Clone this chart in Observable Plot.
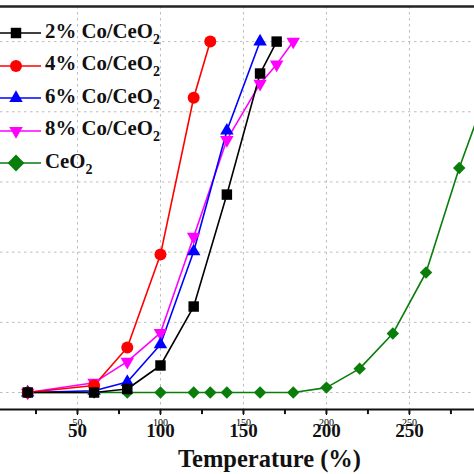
<!DOCTYPE html>
<html>
<head>
<meta charset="utf-8">
<script src="https://cdn.jsdelivr.net/npm/d3@7"></script>
<script src="https://cdn.jsdelivr.net/npm/@observablehq/plot@0.6"></script>
<style>
  html, body { margin: 0; padding: 0; background: #fff; }
  #wrap { position: relative; width: 474px; height: 474px; overflow: hidden; }
  #wrap > svg.axis-layer { position: absolute; left: 0; top: 0; }
  #legend { position: absolute; left: 0; top: 17px; font-family: "Liberation Serif", serif; font-weight: bold; font-size: 20.8px; color: #111; }
  #legend .row { display: flex; align-items: center; height: 32.5px; }
  #legend .key { display: block; margin-right: 4px; }
  #legend sub { font-size: 14px; vertical-align: -6px; }
</style>
</head>
<body>
<div id="wrap"><div id="legend"></div></div>
<script>
// Conversion (%) versus temperature for Co/CeO2 catalysts and bare CeO2
const seriesNames = ["2% Co/CeO", "4% Co/CeO", "6% Co/CeO", "8% Co/CeO", "CeO"];
const seriesColors = ["#000000", "#ff0000", "#0000ff", "#ff00ff", "#0a7d0a"];

const temp2 = [20, 60, 80, 100, 120, 140, 160, 170];
const conv2 = [0, 0, 1, 7.7, 24.5, 56.4, 90.9, 100];

const temp4 = [20, 60, 80, 100, 120, 130];
const conv4 = [0, 2, 12.8, 39.3, 84, 100];

const temp6 = [20, 60, 80, 100, 120, 140, 160];
const conv6 = [0, 0.5, 3, 13.7, 40.2, 74.6, 100];

const temp8 = [20, 60, 80, 100, 120, 140, 160, 170, 180];
const conv8 = [0, 2.8, 8.8, 17, 44.4, 72, 88, 93.5, 100];

const tempCe = [20, 60, 80, 100, 120, 130, 140, 160, 180, 200, 220, 240, 260, 280, 300];
const convCe = [0, 0, 0, 0, 0, 0, 0, 0, 0, 1.4, 6.8, 16.8, 34.2, 64, 90];

const xMajorTicks = [50, 100, 150, 200, 250];
const xMinorTicks = [25, 75, 125, 175, 225, 275];
const yGridTicks = [0, 20, 40, 60, 80, 100];

const xDomain = [3.61, 289.2];
const yMin = -4.84, yMax = 110;
const tickLen = 1.45; // outward tick length, in y units (about 5px)

// Downward-pointing triangle, mirror of d3.symbolTriangle
const sqrt3 = Math.sqrt(3);
const symbolTriangleDown = {
  draw(context, size) {
    const y = -Math.sqrt(size / (sqrt3 * 3));
    context.moveTo(0, -y * 2);
    context.lineTo(-sqrt3 * y, y);
    context.lineTo(sqrt3 * y, y);
    context.closePath();
  }
};

const symbols = ["square", "circle", "triangle", symbolTriangleDown, "diamond2"];
const radii = [5.9, 6, 5, 5, 5.6];
const temps = [temp2, temp4, temp6, temp8, tempCe];
const convs = [conv2, conv4, conv6, conv8, convCe];

const series = seriesNames.map((name, i) => ({
  name, color: seriesColors[i], symbol: symbols[i], r: radii[i],
  rows: temps[i].map((t, j) => ({t, c: convs[i][j]}))
}));

// shared frame geometry for the data layer and the axis layer
const frame = {
  width: 474, height: 474,
  marginLeft: 0, marginRight: 0, marginTop: 6, marginBottom: 65,
  x: {domain: xDomain, label: null},
  y: {domain: [yMin, yMax], label: null, axis: null}
};

// data layer: grid, series lines and markers, top border
const dataMarks = [
  Plot.gridX(xMajorTicks, {stroke: "#bdbdbd", strokeOpacity: 1, strokeDasharray: "2.5,3.5"}),
  Plot.gridY(yGridTicks, {stroke: "#bdbdbd", strokeOpacity: 1, strokeDasharray: "2.5,3.5"}),
  Plot.ruleY([yMax], {stroke: "#222", strokeWidth: 2.5}),
];
// draw in reverse so the 2% series sits on top
for (const s of [...series].reverse()) {
  dataMarks.push(Plot.line(s.rows, {x: "t", y: "c", stroke: s.color, strokeWidth: 1.6, clip: true}));
}
for (const s of [...series].reverse()) {
  dataMarks.push(Plot.dot(s.rows, {x: "t", y: "c", fill: s.color, stroke: "none", symbol: () => s.symbol, r: s.r, clip: true}));
}

const chart = Plot.plot({
  ...frame,
  style: {fontFamily: "Liberation Serif, serif", background: "#fff"},
  symbol: {type: "identity"},
  marks: dataMarks
});

// axis layer: x axis line, outward ticks, tick labels and title
const axisLayer = Plot.plot({
  ...frame,
  className: "axis-layer",
  style: {fontFamily: "Liberation Serif, serif", background: "transparent"},
  marks: [
    Plot.ruleY([yMin], {stroke: "#111", strokeWidth: 2}),
    Plot.ruleX([...xMajorTicks, ...xMinorTicks], {y1: yMin, y2: yMin - tickLen, stroke: "#111", strokeWidth: 2}),
    Plot.axisX(xMajorTicks, {tickSize: 0, tickPadding: 14, fontSize: 19, fontWeight: "bold", fill: "#111", label: null}),
    Plot.text(["Temperature (%)"], {frameAnchor: "bottom", dx: 32, dy: 57, fontSize: 24.5, fontWeight: "bold", fill: "#111"})
  ]
});
axisLayer.classList.add("axis-layer");

const wrap = document.getElementById("wrap");
wrap.prepend(axisLayer);
wrap.prepend(chart);

// Legend: line sample with marker, then the label with subscript 2
const legend = d3.select("#legend");
for (const s of series) {
  const row = legend.append("div").attr("class", "row");
  const svg = row.append("svg").attr("class", "key").attr("width", 41).attr("height", 20);
  svg.append("line").attr("x1", 0).attr("x2", 41).attr("y1", 10).attr("y2", 10)
    .attr("stroke", s.color).attr("stroke-width", 1.6);
  const type = typeof s.symbol === "string"
    ? {square: d3.symbolSquare, circle: d3.symbolCircle, triangle: d3.symbolTriangle, diamond2: null}[s.symbol]
    : s.symbol;
  const size = Math.PI * s.r * s.r;
  if (type) {
    svg.append("path").attr("transform", "translate(16,10)")
      .attr("d", d3.symbol(type, size)()).attr("fill", s.color);
  } else {
    const h = Math.sqrt(size / 2);
    svg.append("path").attr("transform", "translate(16,10)")
      .attr("d", `M0,${-h * 1.2}L${h * 1.2},0L0,${h * 1.2}L${-h * 1.2},0Z`).attr("fill", s.color);
  }
  const label = row.append("span");
  label.append("span").text(s.name);
  label.append("sub").text("2");
}
</script>
</body>
</html>
